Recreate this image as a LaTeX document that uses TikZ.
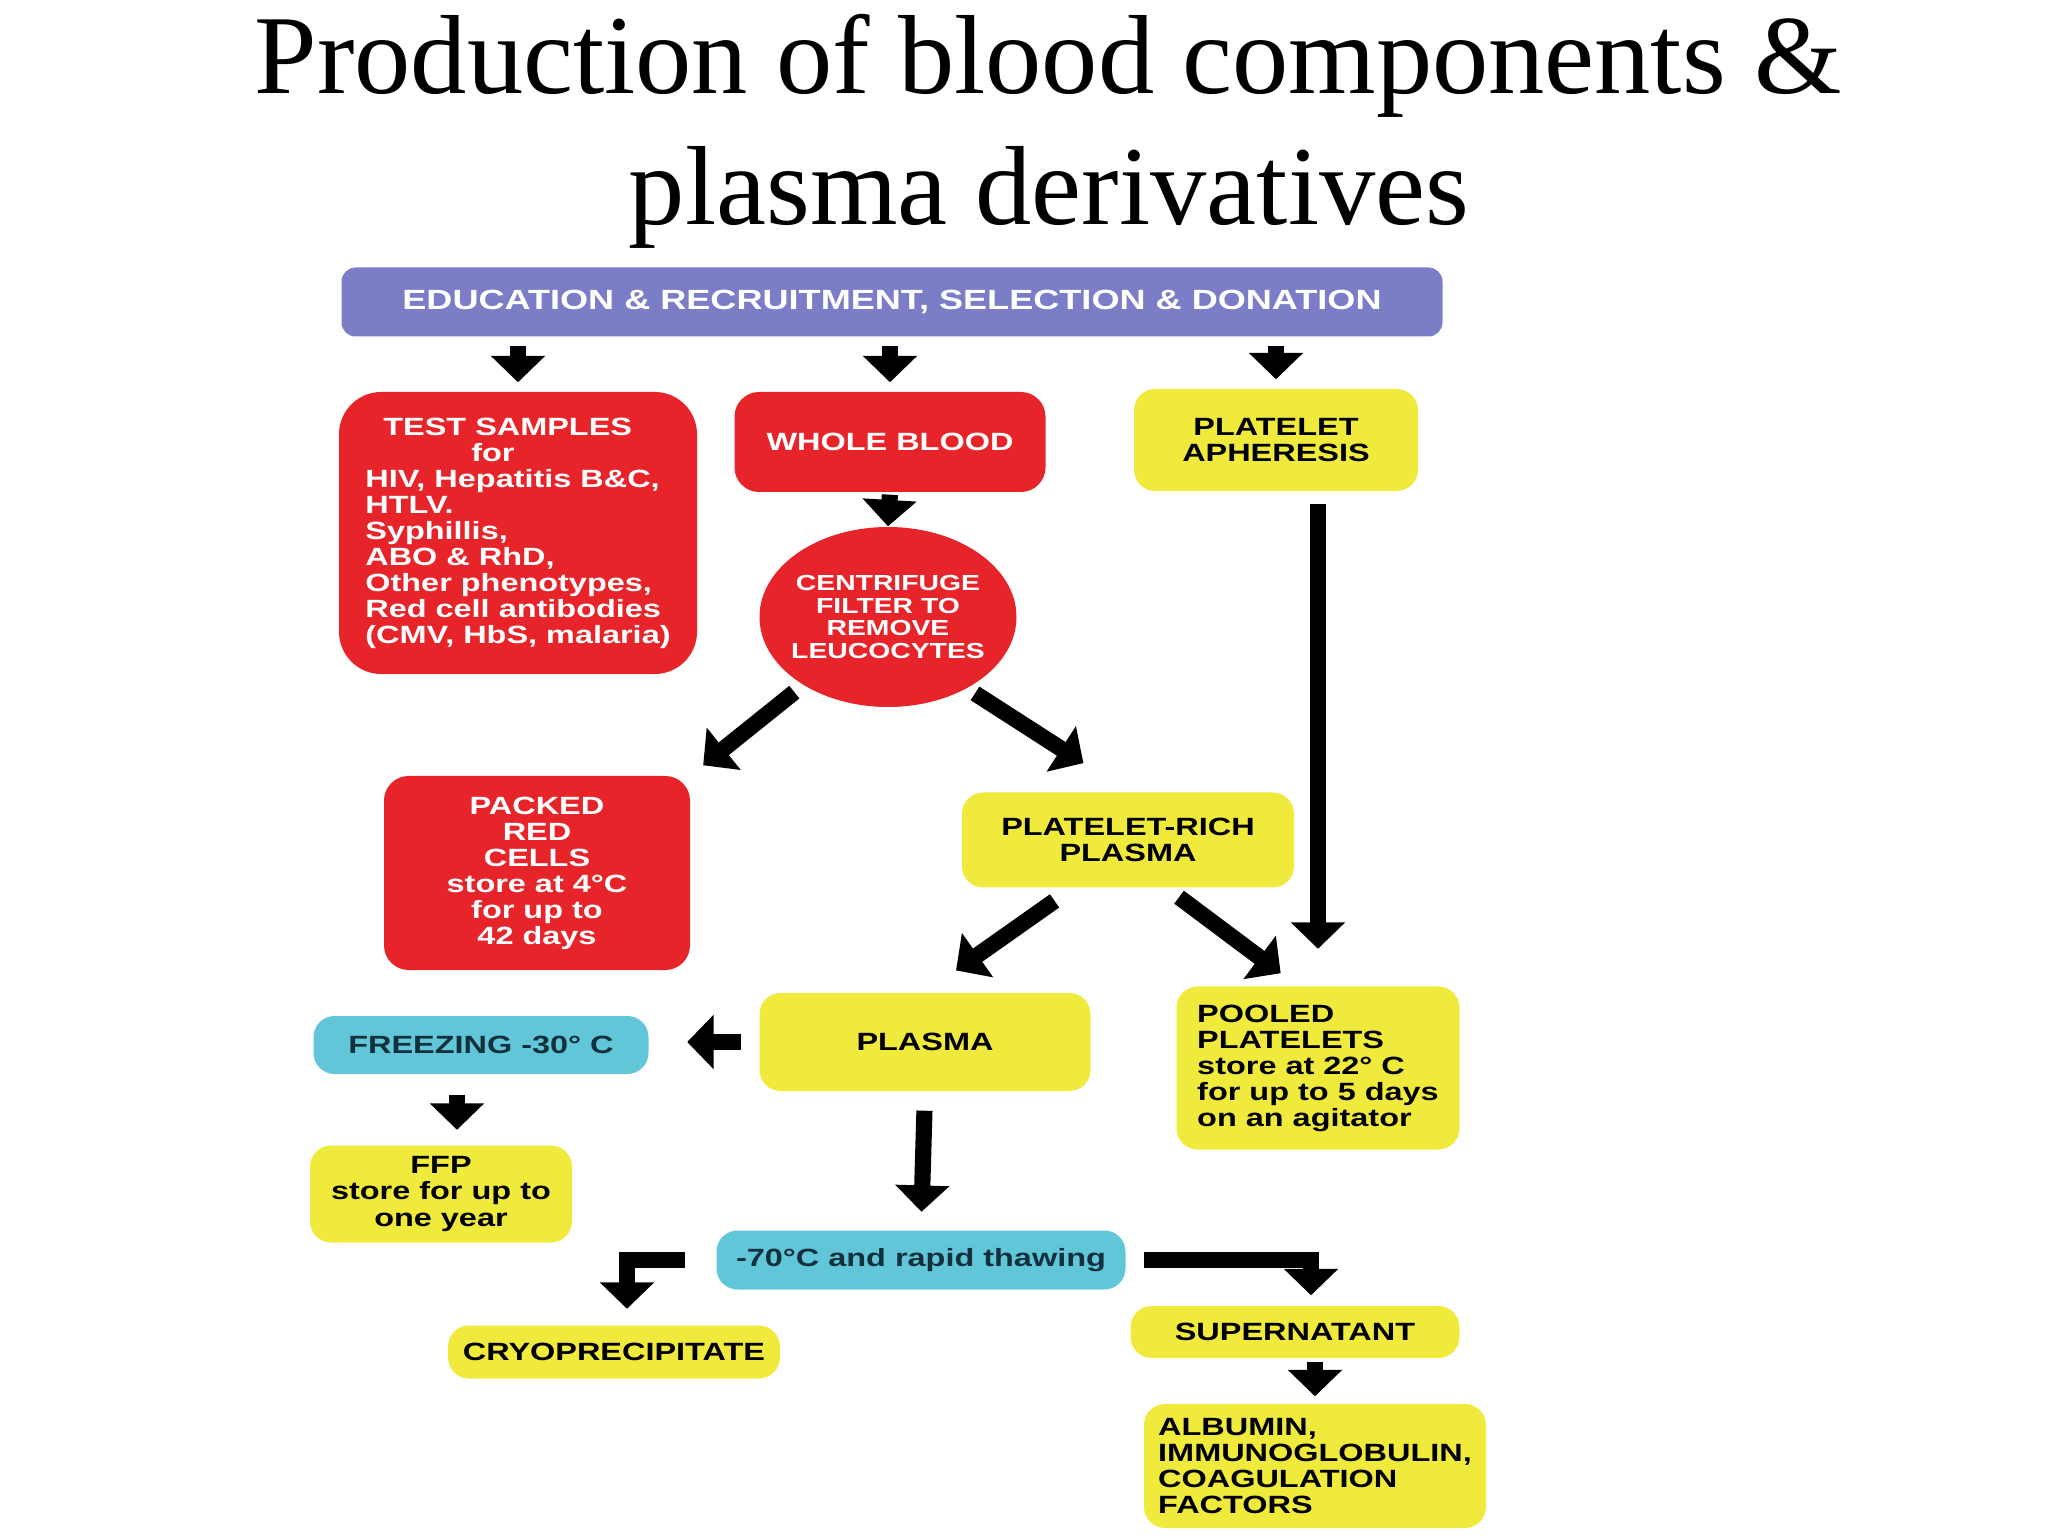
\documentclass[tikz,border=0pt]{standalone}
\usepackage{fontspec}
\setmainfont{Liberation Serif}
\newfontfamily\boxfont{Liberation Sans}[FakeStretch=1.3]
\usetikzlibrary{arrows.meta,positioning,shapes.geometric,calc}
\definecolor{Lavender}{HTML}{7B7EC6}
\definecolor{Blood}{HTML}{E8242B}
\definecolor{Lemon}{HTML}{F0EA3C}
\definecolor{Aqua}{HTML}{62C6D9}
\definecolor{Ink}{HTML}{13303D}

\begin{document}
\begin{tikzpicture}[
  topbar/.style={rounded corners=4pt,fill=Lavender,text=white,inner sep=0pt,minimum width=11.01cm,minimum height=0.69cm,font=\boxfont\bfseries\fontsize{7.9}{8}\selectfont},
  redbox/.style={rounded corners=7pt,fill=Blood,text=white,inner sep=0pt,font=\boxfont\bfseries\fontsize{7.1}{7.4}\selectfont},
  yelbox/.style={rounded corners=6pt,fill=Lemon,text=black,inner sep=0pt,font=\boxfont\bfseries\fontsize{7.1}{7.4}\selectfont},
  cyanbox/.style={rounded corners=6pt,fill=Aqua,text=Ink,inner sep=0pt,font=\boxfont\bfseries\fontsize{7.1}{7.4}\selectfont},
  heading/.style={anchor=base,font=\fontsize{32}{37}\selectfont},
  fatarrow/.style={-{Triangle[width=15pt,length=7.5pt]},line width=4.6pt,draw=black}
]
\useasboundingbox (0,0) rectangle (20.48,-15.36);
\node[heading] (titleA) at (10.48,-0.94) {Production of blood components \&};
\node[heading] (titleB) at (10.49,-2.25) {plasma derivatives};

\node[topbar] (educ) at (8.92,-3.02) {EDUCATION \& RECRUITMENT, SELECTION \& DONATION};
\node[redbox,rounded corners=12pt,minimum width=3.58cm,minimum height=2.82cm,align=left] (tests) at (5.18,-5.33) {\hspace*{0.18cm}TEST SAMPLES\\\hspace*{1.06cm}for\\HIV, Hepatitis B\&C,\\HTLV.\\Syphillis,\\ABO \& RhD,\\Other phenotypes,\\Red cell antibodies\\(CMV, HbS, malaria)};
\node[redbox,minimum width=3.11cm,minimum height=1cm] (whole) at (8.90,-4.42) {WHOLE BLOOD};
\node[yelbox,minimum width=2.84cm,minimum height=1.02cm,align=center] (apher) at (12.76,-4.40) {PLATELET\\APHERESIS};
\node[redbox,ellipse,inner xsep=-8pt,minimum width=2.57cm,minimum height=1.8cm,align=center,font=\boxfont\bfseries\fontsize{6.2}{6.4}\selectfont] (centri) at (8.88,-6.17) {CENTRIFUGE\\FILTER TO\\REMOVE\\LEUCOCYTES};
\node[redbox,minimum width=3.06cm,minimum height=1.94cm,align=center] (packed) at (5.37,-8.73) {PACKED\\RED\\CELLS\\store at 4°C\\for up to\\42 days};
\node[yelbox,minimum width=3.32cm,minimum height=0.95cm,align=center] (prp) at (11.28,-8.40) {PLATELET-RICH\\PLASMA};
\node[yelbox,minimum width=3.31cm,minimum height=0.98cm] (plasma) at (9.25,-10.42) {PLASMA};
\node[yelbox,minimum width=2.83cm,minimum height=1.63cm,align=left] (pooled) at (13.18,-10.68) {POOLED\\PLATELETS\\store at 22° C\\for up to 5 days\\on an agitator};
\node[cyanbox,minimum width=3.35cm,minimum height=0.58cm] (freeze) at (4.81,-10.45) {FREEZING -30° C};
\node[yelbox,minimum width=2.62cm,minimum height=0.97cm,align=center] (ffp) at (4.41,-11.94) {FFP\\store for up to\\one year};
\node[cyanbox,minimum width=4.09cm,minimum height=0.59cm] (thaw) at (9.21,-12.60) {-70°C and rapid thawing};
\node[yelbox,minimum width=3.32cm,minimum height=0.53cm] (cryo) at (6.14,-13.52) {CRYOPRECIPITATE};
\node[yelbox,minimum width=3.29cm,minimum height=0.52cm] (super) at (12.95,-13.32) {SUPERNATANT};
\node[yelbox,minimum width=3.42cm,minimum height=1.24cm,align=left] (albumin) at (13.15,-14.66) {ALBUMIN,\\IMMUNOGLOBULIN,\\COAGULATION\\FACTORS};
\coordinate (ffpin) at ([xshift=-0.24cm]freeze.south);

\draw[fatarrow,shorten <=0.09cm,shorten >=0.09cm] (educ.south -| tests) -- (tests.north);
\draw[fatarrow,shorten <=0.09cm,shorten >=0.09cm] (educ.south -| whole) -- (whole.north);
\draw[fatarrow,shorten <=0.09cm,shorten >=0.09cm] (educ.south -| apher) -- (apher.north);
\draw[fatarrow,shorten <=0.02cm] (whole.south) -- (centri.north);
\draw[fatarrow,shorten <=0.11cm,shorten >=0.16cm] (centri) -- (packed.north east);
\draw[fatarrow,shorten <=0.09cm,shorten >=0.53cm] (centri.-42) -- (prp.north);
\draw[fatarrow,shorten <=0.12cm,shorten >=0.37cm] (apher.south -| pooled) -- (pooled.north);
\draw[fatarrow,shorten <=0.22cm,shorten >=0.38cm] (prp.221) -- (plasma.north);
\draw[fatarrow,shorten <=0.15cm,shorten >=0.21cm] (prp.-51) -- (pooled.104);
\draw[fatarrow,shorten <=0.18cm,shorten >=0.38cm] (plasma.west) -- (plasma.west -| freeze.east);
\draw[fatarrow,shorten <=0.2cm,shorten >=0.15cm] (ffpin) -- (ffpin |- ffp.north);
\draw[fatarrow,shorten <=0.19cm,shorten >=0.18cm] (plasma.south) -- (thaw.north);
\draw[fatarrow,shorten <=0.31cm,shorten >=0.16cm] (thaw.west) -| ([xshift=0.13cm]cryo.north);
\draw[fatarrow,shorten <=0.18cm,shorten >=0.10cm] (thaw.east) -| ([xshift=0.16cm]super.north);
\draw[fatarrow,shorten <=0.03cm,shorten >=0.07cm] (super.south -| albumin) -- (albumin.north);
\end{tikzpicture}
\end{document}
